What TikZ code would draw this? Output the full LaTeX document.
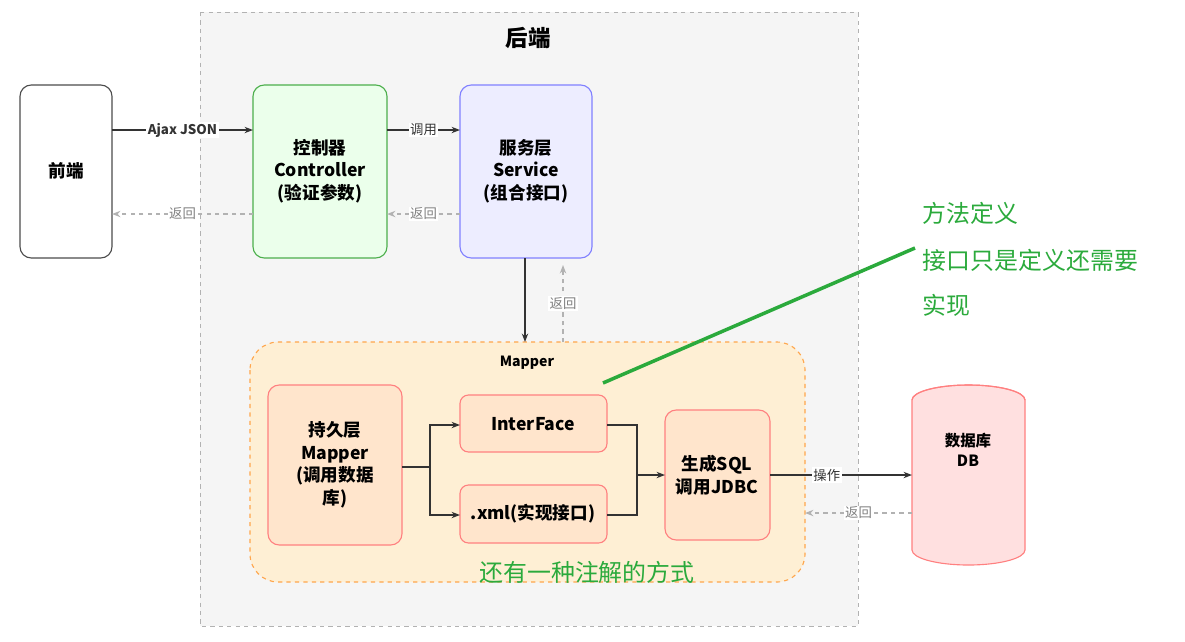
\documentclass[tikz,border=0pt]{standalone}
\usepackage{fontspec}
\setmainfont{Noto Sans CJK SC}
\usetikzlibrary{shapes.geometric,arrows.meta}
\definecolor{gr}{HTML}{2BAA3C}
\begin{document}
\begin{tikzpicture}[x=0.025cm,y=-0.025cm,
 box/.style={align=center, inner sep=0pt, font=\bfseries\fontsize{12.5}{16}\selectfont},
 ar/.style={-{Stealth[length=6pt]}, line width=1pt, black!80},
 ret/.style={-{Stealth[length=6pt]}, line width=1pt, gray!60, dashed},
 lab/.style={fill=white, inner sep=1pt, font=\fontsize{9.5}{11}\selectfont},
 rlab/.style={fill=white, inner sep=1pt, font=\fontsize{9.5}{11}\selectfont, text=gray},
 gt/.style={text=gr, font=\fontsize{17}{19}\selectfont, anchor=west}]
\useasboundingbox (0,0) rectangle (1185,641);
\path[draw=gray!60, dashed, fill=gray!8] (200,12) rectangle (858,626);
\node[font=\bfseries\fontsize{16}{18}\selectfont] (bt) at (528,38) {后端};
\path[draw=black!70, fill=white, rounded corners=8pt, line width=0.8pt] (20,85) rectangle (112,258);
\node[box] (fet) at (66,171) {前端};
\path[draw=green!55!black!70, fill=green!8, rounded corners=8pt, line width=0.8pt] (253,85) rectangle (387,258);
\node[box] (ct) at (320,171) {控制器\\Controller\\(验证参数)};
\path[draw=blue!50, fill=blue!7, rounded corners=8pt, line width=0.8pt] (460,85) rectangle (592,258);
\node[box] (sv) at (526,171) {服务层\\Service\\(组合接口)};
\draw[ar] (112,130) -- node[lab]{\bfseries Ajax JSON} (253,130);
\draw[ret] (253,214) -- node[rlab]{返回} (112,214);
\draw[ar] (387,130) -- node[lab]{调用} (460,130);
\draw[ret] (460,214) -- node[rlab]{返回} (387,214);
\path[draw=orange!70, dashed, fill=yellow!25!orange!15, rounded corners=20pt, line width=0.8pt] (250,342) rectangle (805,582);
\node[font=\bfseries\fontsize{10}{12}\selectfont] (mp) at (527,363) {Mapper};
\draw[ar] (525,258) -- (525,342);
\draw[ret] (563,342) -- node[rlab]{返回} (563,265);
\path[draw=red!50, fill=orange!20, rounded corners=8pt, line width=0.8pt] (268,385) rectangle (402,545);
\node[box] (pm) at (335,465) {持久层\\Mapper\\(调用数据\\库)};
\path[draw=red!50, fill=orange!20, rounded corners=6pt, line width=0.8pt] (460,395) rectangle (607,452);
\node[box] (itf) at (533,424) {InterFace};
\path[draw=red!50, fill=orange!20, rounded corners=6pt, line width=0.8pt] (460,485) rectangle (607,543);
\node[box] (xml) at (533,514) {.xml(实现接口)};
\path[draw=red!50, fill=orange!20, rounded corners=8pt, line width=0.8pt] (665,410) rectangle (770,540);
\node[box] (sql) at (717,475) {生成SQL\\调用JDBC};
\coordinate (br) at (430,467);
\draw[line width=1pt, black!80] (402,467) -- (br);
\draw[ar] (br) |- (460,425);
\draw[ar] (br) |- (460,515);
\coordinate (jn) at (637,475);
\draw[line width=1pt, black!80] (607,425) -| (jn) |- (607,515);
\draw[ar] (jn) -- (665,475);
\path[draw=red!50, fill=red!12, line width=0.8pt] (912,400) -- (912,550) arc[start angle=180,end angle=360,x radius=56.5,y radius=-15] -- (1025,400) arc[start angle=0,end angle=180,x radius=56.5,y radius=-15];
\draw[red!50, line width=0.8pt] (912,400) arc[start angle=180,end angle=360,x radius=56.5,y radius=15];
\node[font=\bfseries\fontsize{11}{14}\selectfont, align=center] (dbt) at (968,450) {数据库\\DB};
\draw[ar] (770,475) -- node[lab, pos=0.4]{操作} (912,475);
\draw[ret] (912,513) -- node[rlab]{返回} (805,513);
\node[text=gr, font=\fontsize{17}{19}\selectfont] (ann) at (587,572) {还有一种注解的方式};
\coordinate (g1) at (603,383);
\coordinate (g2) at (915,248);
\draw[gr, line width=2.5pt] (g1) -- (g2);
\node[gt] (t1) at (918,213) {方法定义};
\node[gt] (t2) at (918,260) {接口只是定义还需要};
\node[gt] (t3) at (918,305) {实现};
\end{tikzpicture}
\end{document}
